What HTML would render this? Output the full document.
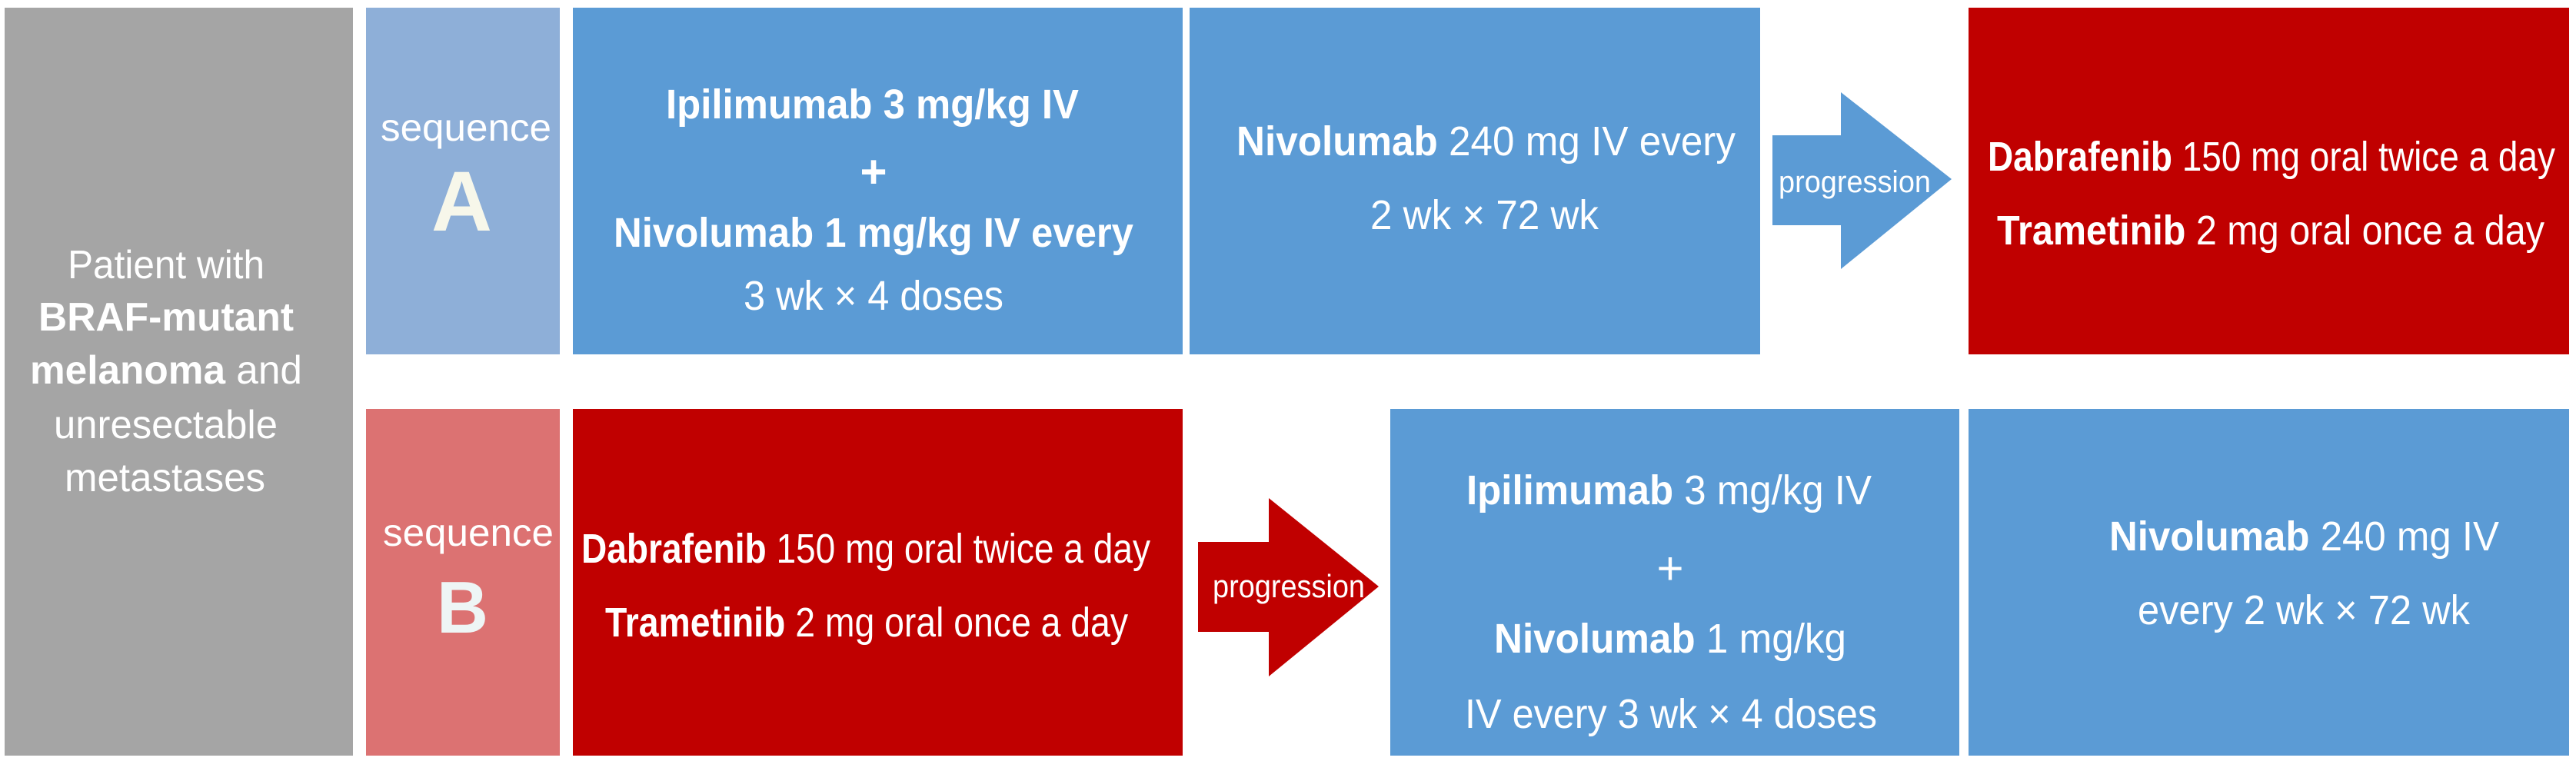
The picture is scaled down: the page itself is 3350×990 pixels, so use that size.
<!DOCTYPE html>
<html>
<head>
<meta charset="utf-8">
<style>
  html, body { margin:0; padding:0; background:#ffffff; }
  svg { display:block; }
  text { font-family: "Liberation Sans", Arial, sans-serif; fill:#ffffff; }
  .b { font-weight:bold; }
</style>
</head>
<body>
<svg width="3350" height="990" viewBox="0 0 3350 990" xmlns="http://www.w3.org/2000/svg">
  <rect x="0" y="0" width="3350" height="990" fill="#ffffff"/>

  <!-- Gray patient box -->
  <rect x="6" y="10" width="453" height="973" fill="#a5a5a5"/>
  <text x="88" y="362" font-size="52" textLength="256" lengthAdjust="spacingAndGlyphs">Patient with</text>
  <text x="50" y="430" font-size="52" class="b" textLength="332" lengthAdjust="spacingAndGlyphs">BRAF-mutant</text>
  <text x="39" y="499" font-size="52" textLength="354" lengthAdjust="spacingAndGlyphs"><tspan class="b">melanoma</tspan> and</text>
  <text x="70" y="570" font-size="52" textLength="291" lengthAdjust="spacingAndGlyphs">unresectable</text>
  <text x="84" y="639" font-size="52" textLength="261" lengthAdjust="spacingAndGlyphs">metastases</text>

  <!-- Sequence A -->
  <rect x="476" y="10" width="252" height="451" fill="#8eafd8"/>
  <text x="495" y="183" font-size="50" textLength="222" lengthAdjust="spacingAndGlyphs">sequence</text>
  <text x="561" y="300" font-size="110" class="b" style="fill:#f7f7ea" textLength="79" lengthAdjust="spacingAndGlyphs">A</text>

  <!-- Blue 1 -->
  <rect x="745" y="10" width="793" height="451" fill="#5b9bd5"/>
  <text x="866" y="154" font-size="54" class="b" textLength="537" lengthAdjust="spacingAndGlyphs">Ipilimumab 3 mg/kg IV</text>
  <text x="1136" y="244" font-size="60" class="b" text-anchor="middle">+</text>
  <text x="798" y="321" font-size="54" class="b" textLength="676" lengthAdjust="spacingAndGlyphs">Nivolumab 1 mg/kg IV every</text>
  <text x="967" y="403" font-size="54" textLength="338" lengthAdjust="spacingAndGlyphs">3 wk × 4 doses</text>

  <!-- Blue 2 -->
  <rect x="1547" y="10" width="742" height="451" fill="#5b9bd5"/>
  <text x="1608" y="202" font-size="54" textLength="649" lengthAdjust="spacingAndGlyphs"><tspan class="b">Nivolumab</tspan> 240 mg IV every</text>
  <text x="1782" y="298" font-size="54" textLength="297" lengthAdjust="spacingAndGlyphs">2 wk × 72 wk</text>

  <!-- Arrow 1 (blue) -->
  <polygon points="2305,176 2394,176 2394,120 2538,233 2394,350 2394,293 2305,293" fill="#5b9bd5"/>
  <text x="2313" y="250" font-size="40" textLength="198" lengthAdjust="spacingAndGlyphs">progression</text>

  <!-- Red 1 -->
  <rect x="2560" y="10" width="781" height="451" fill="#c00000"/>
  <text x="2585" y="222" font-size="54" textLength="738" lengthAdjust="spacingAndGlyphs"><tspan class="b">Dabrafenib</tspan> 150 mg oral twice a day</text>
  <text x="2597" y="318" font-size="54" textLength="712" lengthAdjust="spacingAndGlyphs"><tspan class="b">Trametinib</tspan> 2 mg oral once a day</text>

  <!-- Sequence B -->
  <rect x="476" y="532" width="252" height="451" fill="#dc7272"/>
  <text x="498" y="710" font-size="50" textLength="222" lengthAdjust="spacingAndGlyphs">sequence</text>
  <text x="568" y="823" font-size="96" class="b" style="fill:#eef5f5" textLength="67" lengthAdjust="spacingAndGlyphs">B</text>

  <!-- Red 2 -->
  <rect x="745" y="532" width="793" height="451" fill="#c00000"/>
  <text x="756" y="732" font-size="54" textLength="740" lengthAdjust="spacingAndGlyphs"><tspan class="b">Dabrafenib</tspan> 150 mg oral twice a day</text>
  <text x="787" y="828" font-size="54" textLength="680" lengthAdjust="spacingAndGlyphs"><tspan class="b">Trametinib</tspan> 2 mg oral once a day</text>

  <!-- Arrow 2 (red) -->
  <polygon points="1558,705 1650,705 1650,648 1793,763 1650,880 1650,822 1558,822" fill="#c00000"/>
  <text x="1577" y="777" font-size="42" textLength="198" lengthAdjust="spacingAndGlyphs">progression</text>

  <!-- Blue 3 -->
  <rect x="1808" y="532" width="740" height="451" fill="#5b9bd5"/>
  <text x="1907" y="656" font-size="54" textLength="527" lengthAdjust="spacingAndGlyphs"><tspan class="b">Ipilimumab</tspan> 3 mg/kg IV</text>
  <text x="2172" y="760" font-size="60" text-anchor="middle">+</text>
  <text x="1943" y="849" font-size="54" textLength="458" lengthAdjust="spacingAndGlyphs"><tspan class="b">Nivolumab</tspan> 1 mg/kg</text>
  <text x="1905" y="947" font-size="54" textLength="536" lengthAdjust="spacingAndGlyphs">IV every 3 wk × 4 doses</text>

  <!-- Blue 4 -->
  <rect x="2560" y="532" width="781" height="451" fill="#5b9bd5"/>
  <text x="2743" y="716" font-size="54" textLength="507" lengthAdjust="spacingAndGlyphs"><tspan class="b">Nivolumab</tspan> 240 mg IV</text>
  <text x="2780" y="812" font-size="54" textLength="432" lengthAdjust="spacingAndGlyphs">every 2 wk × 72 wk</text>
</svg>
</body>
</html>
